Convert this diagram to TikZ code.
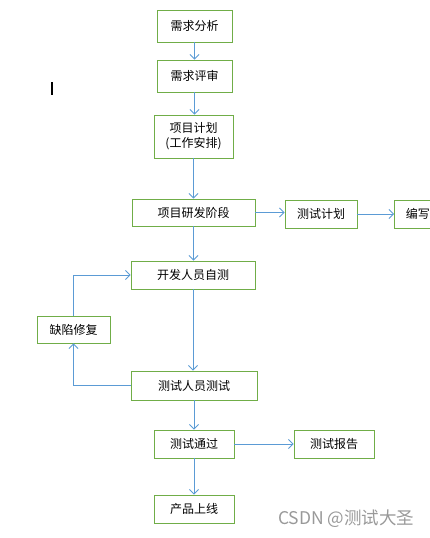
\documentclass[tikz,border=0pt]{standalone}
\usepackage{fontspec}
\usepackage{tikz}
\usepackage{xcolor}
\usetikzlibrary{
    arrows.meta,
    calc,
    positioning
}
\newfontfamily\cjk{Noto Sans CJK SC}
\definecolor{boxgreen}{HTML}{70AD47}
\definecolor{flowblue}{HTML}{5B9BD5}
\tikzset{
    stage/.style={draw=boxgreen, line width=0.9pt, inner sep=0pt, align=center,
        font=\cjk\fontsize{12}{15}\selectfont},
    flow/.style={draw=flowblue, line width=0.8pt, -{Straight Barb[length=4.5pt, width=9pt]}}
}
\begin{document}
\begin{tikzpicture}[x=1pt, y=-1pt]
                        \useasboundingbox (0, 0) rectangle (430, 538);
                        \clip (0, 0) rectangle (430, 538);
                        \node[stage, minimum width=75, minimum height=32] (fenxi) at (194.5, 26) {需求分析};
                        \node[stage, minimum width=75, minimum height=32] (pingshen) at (194.5, 76) {需求评审};
                        \node[stage, minimum width=79, minimum height=43] (jihua) at (193.5, 136.5) {项目计划\\(工作安排)};
                        \node[stage, minimum width=123, minimum height=27] (yanfa) at (193.5, 212.5) {项目研发阶段};
                        \node[stage, minimum width=72, minimum height=28] (csjihua) at (321, 214) {测试计划};
                        \node[stage, anchor=west, inner xsep=11.5pt, minimum height=28] (bianxie) at (394, 214) {编写};
                        \node[stage, minimum width=124, minimum height=28] (zice) at (193, 275) {开发人员自测};
                        \node[stage, minimum width=73, minimum height=27] (xiufu) at (73.5, 329.5) {缺陷修复};
                        \node[stage, minimum width=126, minimum height=29] (ceshi) at (194, 385.5) {测试人员测试};
                        \node[stage, minimum width=80, minimum height=28] (tongguo) at (194, 444) {测试通过};
                        \node[stage, minimum width=80, minimum height=28] (baogao) at (334, 444) {测试报告};
                        \node[stage, minimum width=80, minimum height=28] (shangxian) at (194, 509) {产品上线};
                        \draw[flow] (fenxi.south) -- (fenxi.south |- pingshen.north);
                        \draw[flow] (pingshen.south) -- (pingshen.south |- jihua.north);
                        \draw[flow] (jihua.south) -- (jihua.south |- yanfa.north);
                        \draw[flow] (yanfa.east) -- (yanfa.east -| csjihua.west);
                        \draw[flow] (csjihua) -- (bianxie);
                        \draw[flow] (yanfa.south) -- (yanfa.south |- zice.north);
                        \draw[flow] (zice.south) -- (zice.south |- ceshi.north);
                        \draw[flow] (ceshi.west) -| (xiufu.south);
                        \draw[flow] (xiufu.north) |- (zice.west);
                        \draw[flow] (ceshi.south) -- (ceshi.south |- tongguo.north);
                        \draw[flow] (tongguo) -- (baogao);
                        \draw[flow] (tongguo) -- (shangxian);
                        \draw[line width=2pt] (52, 82) -- (52, 95);
                        \node[font=\cjk\fontsize{17.5}{20}\selectfont, text=black!40, anchor=west, inner sep=0pt] (mark) at (278, 519) {CSDN @测试大圣};
                    \end{tikzpicture}
\end{document}
